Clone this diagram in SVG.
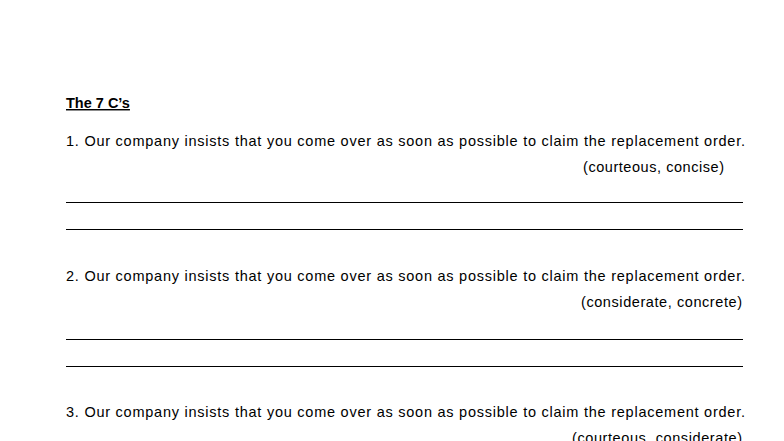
<svg xmlns="http://www.w3.org/2000/svg" width="784" height="441" viewBox="0 0 784 441">
<style>
text{font-family:"Liberation Sans",Arial,sans-serif;font-size:14.5px;fill:#000}
.h{font-weight:bold;text-decoration:underline}
line{stroke:#000;stroke-width:1}
</style>
<rect width="784" height="441" fill="#fff"/>
<text class="h" x="66" y="108">The 7 C’s</text>
<text x="66" y="146" textLength="679" lengthAdjust="spacing">1. Our company insists that you come over as soon as possible to claim the replacement order.</text>
<text x="583" y="172" textLength="141" lengthAdjust="spacing">(courteous, concise)</text>
<line x1="66" y1="202.5" x2="743" y2="202.5"/>
<line x1="66" y1="229.5" x2="743" y2="229.5"/>
<text x="66" y="281" textLength="679" lengthAdjust="spacing">2. Our company insists that you come over as soon as possible to claim the replacement order.</text>
<text x="581" y="307" textLength="161" lengthAdjust="spacing">(considerate, concrete)</text>
<line x1="66" y1="339.5" x2="743" y2="339.5"/>
<line x1="66" y1="366.5" x2="743" y2="366.5"/>
<text x="66" y="417" textLength="679" lengthAdjust="spacing">3. Our company insists that you come over as soon as possible to claim the replacement order.</text>
<text x="572" y="443" textLength="170" lengthAdjust="spacing">(courteous, considerate)</text>
</svg>
